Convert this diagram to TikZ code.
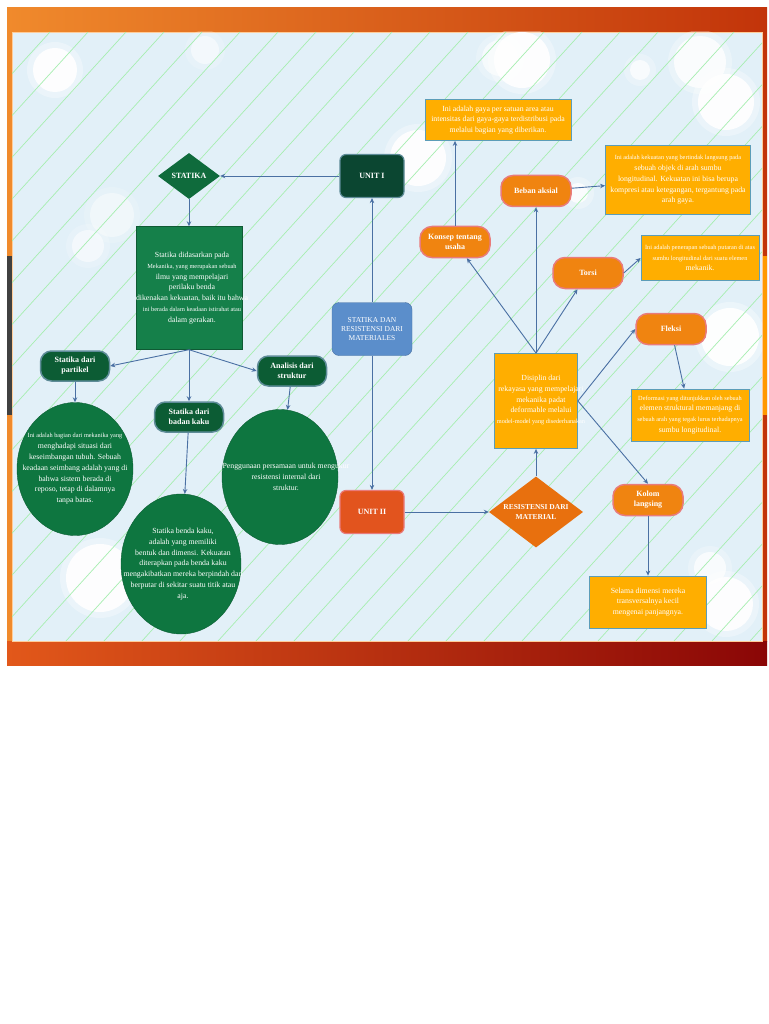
\documentclass[tikz,border=0pt]{standalone}
\usepackage{fontspec}
\setmainfont{Liberation Serif}
\usepackage{tikz}
\usetikzlibrary{arrows.meta,positioning,shapes.geometric}

\definecolor{panelbg}{HTML}{E2F0F8}
\definecolor{stripe}{HTML}{A6EEB0}
\definecolor{frameA}{HTML}{F08A2C}
\definecolor{frameB}{HTML}{C2340A}
\definecolor{frameC}{HTML}{E2581A}
\definecolor{frameD}{HTML}{8A0606}
\definecolor{unitgreen}{HTML}{0B4631}
\definecolor{midgreen}{HTML}{0F6B3C}
\definecolor{boxgreen}{HTML}{15804A}
\definecolor{ellgreen}{HTML}{0E7640}
\definecolor{pillgreen}{HTML}{0C5C34}
\definecolor{pillrim}{HTML}{5E8C98}
\definecolor{bluebox}{HTML}{5B8ECB}
\definecolor{unitred}{HTML}{E2541E}
\definecolor{resorange}{HTML}{E8700E}
\definecolor{pillorange}{HTML}{F08410}
\definecolor{pillpink}{HTML}{E97B7B}
\definecolor{notefill}{HTML}{FFAE00}
\definecolor{noterim}{HTML}{5C9DB8}
\definecolor{arrowblue}{HTML}{4A70A3}

\newcommand{\smtxt}[1]{{\fontsize{6.3}{7}\selectfont #1}}

\begin{document}
\begin{tikzpicture}[x=1pt, y=-1pt,
  txt/.style={text=white, align=center, inner sep=0pt, font=\fontsize{7.8}{10.8}\selectfont},
  ttl/.style={txt, font=\fontsize{8}{10}\selectfont\bfseries},
  unit/.style={draw=pillrim, line width=1.2pt, rounded corners=6pt, minimum width=64pt, minimum height=43pt, ttl},
  gpill/.style={draw=pillrim, line width=1.5pt, fill=pillgreen, rounded corners=11pt, minimum width=69pt, minimum height=30pt, ttl},
  opill/.style={draw=pillpink, line width=1.5pt, fill=pillorange, rounded corners=12pt, minimum width=70pt, minimum height=31pt, ttl},
  gell/.style={ellipse, fill=ellgreen, draw=ellgreen!80!black, inner sep=0pt},
  note/.style={draw=noterim, line width=0.8pt, fill=notefill, inner sep=0pt},
  arr/.style={-{Stealth[length=5pt, width=4.5pt]}, draw=arrowblue, line width=0.9pt}
]
\useasboundingbox (0,0) rectangle (768,1024);
\fill[white] (0,0) rectangle (768,1024);

% frame and panel
\shade[left color=frameA, right color=frameB] (7,8) rectangle (767,641);
\shade[left color=frameC, right color=frameD] (7,641) rectangle (767,665);
\fill[black!75] (7,256) rectangle (12,415);
\fill[orange!80!yellow] (762,256) rectangle (767,415);
\fill[panelbg, draw=orange!40] (12,32) rectangle (762,641);
\begin{scope}
  \clip (12,32) rectangle (762,641);
  \foreach \bx/\by/\br/\bo in {55/70/22/.9, 205/50/14/.5, 112/215/22/.4, 88/246/16/.5,
      418/158/28/.9, 500/58/18/.6, 522/60/28/.9, 640/70/10/.7, 700/62/26/.8, 726/102/28/.9,
      578/193/10/.8, 730/337/29/.95, 100/578/34/.9, 726/604/27/.9, 710/568/16/.7}{
    \fill[white, opacity=\bo*0.35] (\bx,\by) circle[radius=\br pt+6pt];
    \fill[white, opacity=\bo] (\bx,\by) circle[radius=\br pt];
  }
  \foreach \x in {-580,-542,...,780}
    \draw[stripe, line width=0.7pt] (\x,641) -- ++(554,-609);
\end{scope}

% statika
\node[unit, fill=unitgreen] (unit1) at (372,176) {UNIT I};
\node[diamond, aspect=1.35, fill=midgreen, minimum width=62pt, minimum height=46pt, ttl] (statika) at (189,176) {STATIKA};
\node[draw=boxgreen!70!black, fill=boxgreen, minimum width=106pt, minimum height=123pt] (dasar) at (189,288) {};
\node[txt] (dasar-t) at (192,288)
  {Statika didasarkan pada\\ \smtxt{Mekanika, yang merupakan sebuah}\\ ilmu yang mempelajari\\ perilaku benda\\ dikenakan kekuatan, baik itu bahwa\\ \smtxt{ini berada dalam keadaan istirahat atau}\\ dalam gerakan.};
\node[gpill] (partikel) at (75,366) {Statika dari\\partikel};
\node[gpill] (kaku) at (189,417) {Statika dari\\badan kaku};
\node[gpill] (analisis) at (292,371) {Analisis dari\\struktur};
\node[gell, minimum width=116pt, minimum height=133pt] (seimbang) at (75,469) {};
\node[txt] (seimbang-t) at (seimbang)
  {\smtxt{Ini adalah bagian dari mekanika yang}\\ menghadapi situasi dari\\ keseimbangan tubuh. Sebuah\\ keadaan seimbang adalah yang di\\ bahwa sistem berada di\\ reposo, tetap di dalamnya\\ tanpa batas.};
\node[gell, minimum width=120pt, minimum height=140pt] (benda) at (181,564) {};
\node[txt] (benda-t) at (183,564)
  {Statika benda kaku,\\ adalah yang memiliki\\ bentuk dan dimensi. Kekuatan\\ diterapkan pada benda kaku\\ mengakibatkan mereka berpindah dan\\ berputar di sekitar suatu titik atau\\ aja.};
\node[gell, minimum width=116pt, minimum height=135pt] (struktur) at (280,477) {};
\node[txt] (struktur-t) at (286,477)
  {Penggunaan persamaan untuk mengukur\\ resistensi internal dari\\ struktur.};

% center
\node[draw=bluebox!80!black, fill=bluebox, rounded corners=7pt, minimum width=80pt, minimum height=53pt, txt, font=\fontsize{7.5}{9}\selectfont] (pusat) at (372,329) {STATIKA DAN\\RESISTENSI DARI\\MATERIALES};
\node[unit, fill=unitred, draw=pillpink] (unit2) at (372,512) {UNIT II};

% resistensi
\node[diamond, fill=resorange, minimum width=94pt, minimum height=71pt, inner sep=0pt] (resist) at (536,512) {};
\node[ttl, font=\fontsize{7.5}{9.5}\selectfont\bfseries] (resist-t) at (resist) {RESISTENSI DARI\\MATERIAL};
\node[note, minimum width=83pt, minimum height=95pt] (disiplin) at (536,401) {};
\node[txt] (disiplin-t) at (541,400)
  {Disiplin dari\\ rekayasa yang mempelajari\\ mekanika padat\\ deformable melalui\\ \smtxt{model-model yang disederhanakan}};
\node[opill] (konsep) at (455,242) {Konsep tentang\\usaha};
\node[opill] (beban) at (536,191) {Beban aksial};
\node[opill] (torsi) at (588,273) {Torsi};
\node[opill] (fleksi) at (671,329) {Fleksi};
\node[opill] (kolom) at (648,500) {Kolom\\langsing};
\node[note, minimum width=146pt, minimum height=41pt] (gaya) at (498,120) {};
\node[txt] (gaya-t) at (gaya)
  {Ini adalah gaya per satuan area atau\\ intensitas dari gaya-gaya terdistribusi pada\\ melalui bagian yang diberikan.};
\node[note, minimum width=145pt, minimum height=69pt] (kekuatan) at (678,180) {};
\node[txt] (kekuatan-t) at (kekuatan)
  {\smtxt{Ini adalah kekuatan yang bertindak langsung pada}\\ sebuah objek di arah sumbu\\ longitudinal. Kekuatan ini bisa berupa\\ kompresi atau ketegangan, tergantung pada\\ arah gaya.};
\node[note, minimum width=118pt, minimum height=45pt] (putaran) at (700,258) {};
\node[txt] (putaran-t) at (putaran)
  {\smtxt{Ini adalah penerapan sebuah putaran di atas}\\ \smtxt{sumbu longitudinal dari suatu elemen}\\ mekanik.};
\node[note, minimum width=118pt, minimum height=52pt] (deformasi) at (690,415) {};
\node[txt] (deformasi-t) at (deformasi)
  {\smtxt{Deformasi yang ditunjukkan oleh sebuah}\\ elemen struktural memanjang di\\ \smtxt{sebuah arah yang tegak lurus terhadapnya}\\ sumbu longitudinal.};
\node[note, minimum width=117pt, minimum height=52pt] (selama) at (648,602) {};
\node[txt] (selama-t) at (selama)
  {Selama dimensi mereka\\ transversalnya kecil\\ mengenai panjangnya.};

\draw[arr] (unit1) -- (statika);
\draw[arr] (statika) -- (dasar);
\draw[arr] (dasar.south) -- (partikel.east);
\draw[arr] (dasar.south) -- (kaku);
\draw[arr] (dasar.south) -- (analisis.west);
\draw[arr] (partikel) -- (seimbang);
\draw[arr] (kaku) -- (benda);
\draw[arr] (analisis) -- (struktur);
\draw[arr] (pusat) -- (unit1);
\draw[arr] (pusat) -- (unit2);
\draw[arr] (unit2) -- (resist);
\draw[arr] (resist) -- (disiplin);
\draw[arr] (disiplin.north) -- (konsep);
\draw[arr] (disiplin.north) -- (beban);
\draw[arr] (disiplin.north) -- (torsi);
\draw[arr] (disiplin.east) -- (fleksi.west);
\draw[arr] (disiplin.east) -- (kolom.north);
\draw[arr] (konsep) -- (konsep |- gaya.south);
\draw[arr] (beban) -- (kekuatan);
\draw[arr] (torsi.east) -- (putaran.west);
\draw[arr] (fleksi) -- (deformasi);
\draw[arr] (kolom) -- (selama);
\end{tikzpicture}
\end{document}
